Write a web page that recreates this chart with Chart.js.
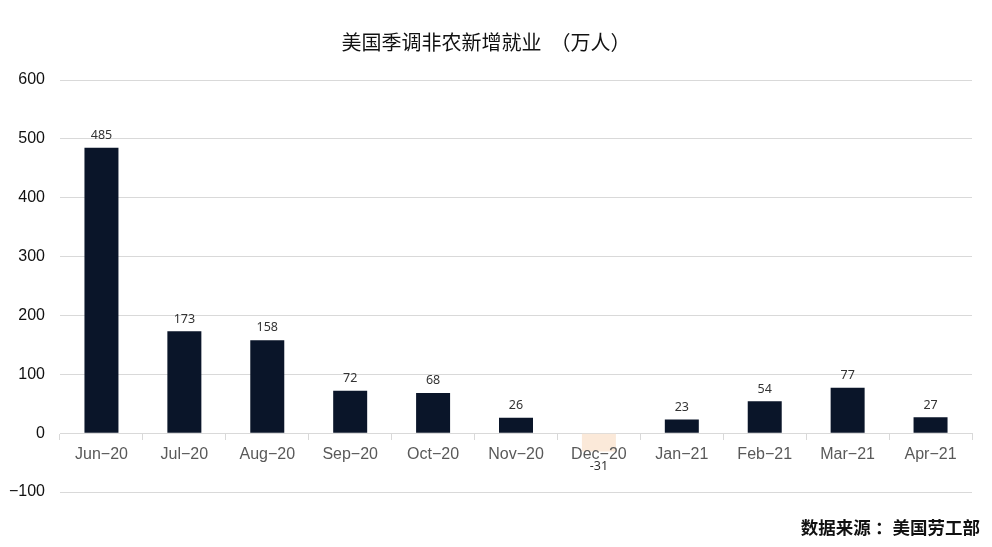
<!DOCTYPE html>
<html lang="zh-CN">
<head>
<meta charset="UTF-8">
<title>美国季调非农新增就业</title>
<script src="https://cdn.jsdelivr.net/npm/chart.js"></script>
<style>
  body { margin: 0; background: #fff; }
  #wrap { width: 992px; height: 547px; }
</style>
</head>
<body>
<div id="wrap"><canvas id="payrolls"></canvas></div>
<script>
// 数据
const months = ['Jun-20', 'Jul-20', 'Aug-20', 'Sep-20', 'Oct-20', 'Nov-20',
                'Dec-20', 'Jan-21', 'Feb-21', 'Mar-21', 'Apr-21'];
const jobsAdded = [485, 173, 158, 72, 68, 26, -31, 23, 54, 77, 27];
const yTicks = [-100, 0, 100, 200, 300, 400, 500, 600];

const dash = s => String(s).replace('-', '\u2212');

// 柱顶数值 + 右下角数据来源
const labelPlugin = {
  id: 'barLabels',
  afterDraw(chart) {
    const ctx = chart.ctx;
    const meta = chart.getDatasetMeta(0);
    ctx.save();
    ctx.font = '12.5px "Noto Sans", sans-serif';
    ctx.fillStyle = '#333';
    ctx.textAlign = 'center';
    meta.data.forEach((bar, i) => {
      const v = jobsAdded[i];
      if (v >= 0) {
        ctx.textBaseline = 'bottom';
        ctx.fillText(v, bar.x, bar.y - 6);
      } else {
        ctx.textBaseline = 'top';
        ctx.fillText(v, bar.x, bar.y + 9);
      }
    });
    ctx.font = 'bold 17.5px "Noto Sans CJK SC", sans-serif';
    ctx.fillStyle = '#111';
    ctx.textAlign = 'right';
    ctx.textBaseline = 'middle';
    ctx.fillText('数据来源\u2005：美国劳工部', chart.width - 12, 527);
    ctx.restore();
  }
};

new Chart(document.getElementById('payrolls'), {
  type: 'bar',
  data: {
    labels: months,
    datasets: [{
      data: jobsAdded,
      backgroundColor: jobsAdded.map(v => v < 0 ? '#fbe9d9' : '#0a1529'),
      categoryPercentage: 1,
      barPercentage: 0.41
    }]
  },
  options: {
    responsive: true,
    maintainAspectRatio: false,
    animation: false,
    layout: { padding: { left: 0, right: 20, bottom: 55 } },
    plugins: {
      legend: { display: false },
      tooltip: { enabled: false },
      title: {
        display: true,
        text: '美国季调非农新增就业  （万人）',
        color: '#111',
        font: { family: '"Noto Sans CJK SC", sans-serif', size: 20, weight: 'normal' },
        padding: { top: 30, bottom: 26 }
      }
    },
    scales: {
      x: {
        position: { y: 0 },
        grid: {
          offset: true,
          drawOnChartArea: false,
          drawTicks: true,
          tickLength: 6,
          color: '#d9d9d9'
        },
        border: { color: '#d9d9d9' },
        ticks: {
          z: 1,
          color: '#595959',
          padding: 6,
          font: { family: '"Liberation Sans", Arial, sans-serif', size: 16 },
          callback(v, i) { return dash(months[i]); }
        }
      },
      y: {
        min: yTicks[0],
        max: yTicks[yTicks.length - 1],
        afterBuildTicks(axis) { axis.ticks = yTicks.map(v => ({ value: v })); },
        afterFit(axis) { axis.width = 60; },
        grid: { color: '#d9d9d9', drawTicks: false },
        border: { display: false },
        ticks: {
          color: '#111',
          padding: 15,
          font: { family: '"Liberation Sans", Arial, sans-serif', size: 16 },
          callback: v => dash(v)
        }
      }
    }
  },
  plugins: [labelPlugin]
});
</script>
</body>
</html>
